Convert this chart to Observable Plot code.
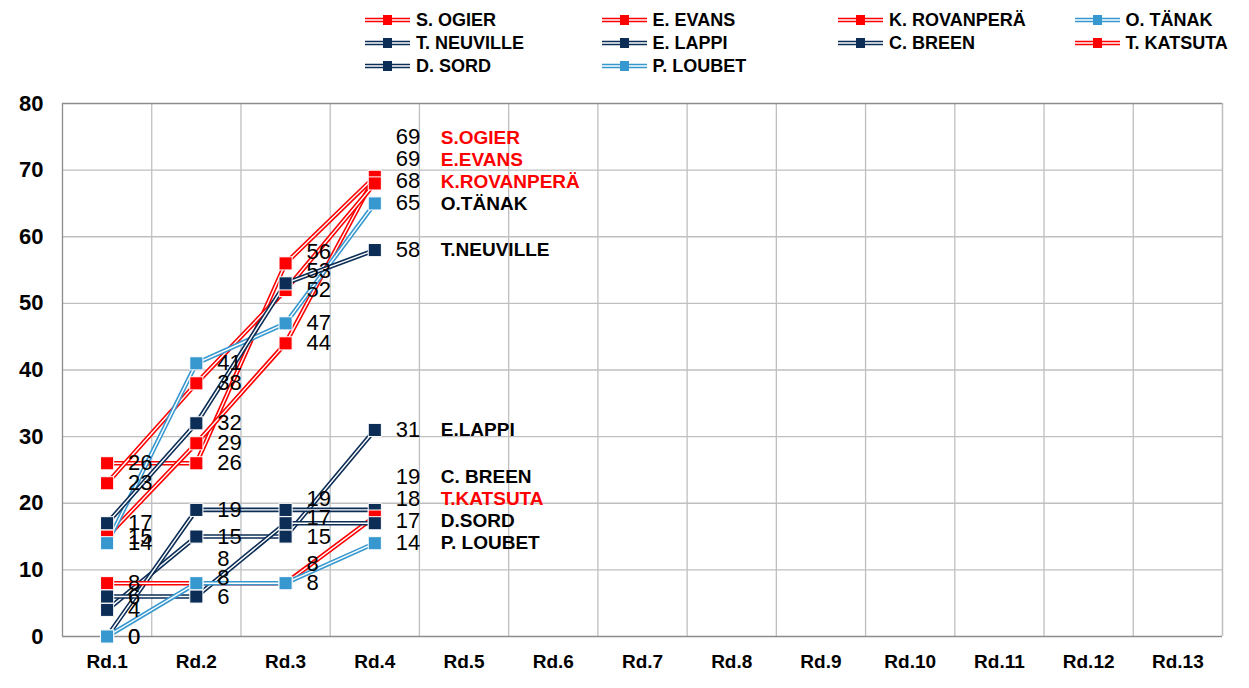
<!DOCTYPE html>
<html>
<head>
<meta charset="utf-8">
<script src="https://cdn.jsdelivr.net/npm/d3@7"></script>
<script src="https://cdn.jsdelivr.net/npm/@observablehq/plot@0.6"></script>
<style>
  html, body { margin: 0; padding: 0; background: #fff; }
  body { width: 1249px; height: 688px; overflow: hidden; font-family: "Liberation Sans", Arial, sans-serif; }
  #legend { position: relative; height: 80px; width: 1249px; }
  .item { position: absolute; display: flex; align-items: center; height: 22px; font-weight: bold; font-size: 18px; color: #000; white-space: nowrap; }
  .item svg { margin-right: 6px; }
</style>
</head>
<body>
<div id="legend"></div>
<div id="chart"></div>
<script>
// ---- data ----
const rounds = ["Rd.1","Rd.2","Rd.3","Rd.4","Rd.5","Rd.6","Rd.7","Rd.8","Rd.9","Rd.10","Rd.11","Rd.12","Rd.13"];
const drivers = ["S. OGIER","E. EVANS","K. ROVANPERÄ","O. TÄNAK","T. NEUVILLE","E. LAPPI","C. BREEN","T. KATSUTA","D. SORD","P. LOUBET"];
const endNames = ["S.OGIER","E.EVANS","K.ROVANPERÄ","O.TÄNAK","T.NEUVILLE","E.LAPPI","C. BREEN","T.KATSUTA","D.SORD","P. LOUBET"];
const ogier     = [26, 26, 56, 69];
const evans     = [15, 29, 44, 69];
const rovanpera = [23, 38, 52, 68];
const tanak     = [14, 41, 47, 65];
const neuville  = [17, 32, 53, 58];
const lappi     = [4, 15, 15, 31];
const breen     = [0, 19, 19, 19];
const katsuta   = [8, 8, 8, 18];
const sord      = [6, 6, 17, 17];
const loubet    = [0, 8, 8, 14];
const yTicks = [0, 10, 20, 30, 40, 50, 60, 70, 80];

// ---- styles ----
const RED = "#ff0000", NAVY = "#0c2d56", LBLUE = "#3798d0";
const driverColors = [RED, RED, RED, LBLUE, NAVY, NAVY, NAVY, RED, NAVY, LBLUE];

const series = [ogier, evans, rovanpera, tanak, neuville, lappi, breen, katsuta, sord, loubet];

const W = 1249, H = 608, mT = 23, mB = 52, mL = 62, mR = 27;
const pxPerUnit = (H - mT - mB) / 80;

const rows = series.flatMap((vals, i) => vals.map((v, r) => ({driver: i, round: r + 1, pts: v})));

// label dodging (bottom-up push), per round
const gapPx = [0, 19, 19, 22];
for (let r = 1; r <= 4; r++) {
  const g = gapPx[r - 1] / pxPerUnit;
  const rs = rows.filter(d => d.round === r).sort((a, b) => a.pts - b.pts || b.driver - a.driver);
  let prev = null;
  for (const d of rs) {
    d.ly = (prev === null || g === 0) ? d.pts : Math.max(d.pts, prev + g);
    prev = d.ly;
  }
}
const lastRound = d3.max(rows, d => d.round);

// ---- legend ----
const legend = document.getElementById("legend");
drivers.forEach((name, i) => {
  const col = i % 4, row = Math.floor(i / 4);
  const div = document.createElement("div");
  div.className = "item";
  div.style.left = (365 + col * 236.5) + "px";
  div.style.top = (9 + row * 23) + "px";
  const c = driverColors[i];
  div.innerHTML = `<svg width="45" height="12"><line x1="0" x2="45" y1="6" y2="6" stroke="${c}" stroke-width="4.5"/><line x1="0" x2="45" y1="6" y2="6" stroke="#fff" stroke-width="1.4"/><rect x="18" y="1" width="9" height="10" fill="${c}"/></svg><span>${name}</span>`;
  legend.appendChild(div);
});

// ---- chart ----
const marks = [];
// grid
marks.push(Plot.ruleX(d3.range(1.5, 14, 1), {stroke: "#bfbfbf", strokeWidth: 1.3}));
marks.push(Plot.ruleY(yTicks.filter(t => t > 0 && t < 80), {stroke: "#bfbfbf", strokeWidth: 1.3}));
marks.push(Plot.ruleY([80], {stroke: "#8c8c8c", strokeWidth: 1.3}));
marks.push(Plot.ruleY([0], {stroke: "#8c8c8c", strokeWidth: 1.3}));
marks.push(Plot.ruleX([0.5], {stroke: "#8c8c8c", strokeWidth: 1.3}));
marks.push(Plot.ruleX([13.5], {stroke: "#bfbfbf", strokeWidth: 1.3}));
// axes
marks.push(Plot.axisY({ticks: yTicks, tickSize: 0, tickPadding: 19, label: null, fontSize: 22, fontWeight: "bold"}));
marks.push(Plot.axisX({ticks: d3.range(1, 14), tickFormat: i => rounds[i - 1], tickSize: 0, tickPadding: 18, label: null, fontSize: 19, fontWeight: "bold"}));
// double lines
series.forEach((vals, i) => {
  const d = rows.filter(r => r.driver === i);
  marks.push(Plot.line(d, {x: "round", y: "pts", stroke: driverColors[i], strokeWidth: 4.6}));
  marks.push(Plot.line(d, {x: "round", y: "pts", stroke: "#fff", strokeWidth: 1.4}));
});
// markers
series.forEach((vals, i) => {
  const d = rows.filter(r => r.driver === i);
  marks.push(Plot.dot(d, {x: "round", y: "pts", symbol: "square", r: 7.4, fill: driverColors[i], stroke: "#fff", strokeWidth: 1}));
});
// value labels
marks.push(Plot.text(rows, {x: "round", y: "ly", text: d => String(d.pts), dx: 21, textAnchor: "start", fontSize: 22, fill: "#000"}));
// end names
const ends = rows.filter(d => d.round === lastRound);
marks.push(Plot.text(ends, {x: "round", y: "ly", text: d => endNames[d.driver], dx: 66, textAnchor: "start", fontSize: 19, fontWeight: "bold", fill: d => driverColors[d.driver] === RED ? RED : "#000"}));

const chart = Plot.plot({
  width: W, height: H,
  marginTop: mT, marginBottom: mB, marginLeft: mL, marginRight: mR,
  x: {type: "linear", domain: [0.5, 13.5], axis: null},
  y: {domain: [0, 80], axis: null},
  style: {fontFamily: "'Liberation Sans', Arial, sans-serif", background: "#fff", color: "#000", overflow: "visible"},
  marks
});
document.getElementById("chart").appendChild(chart);
</script>
</body>
</html>
